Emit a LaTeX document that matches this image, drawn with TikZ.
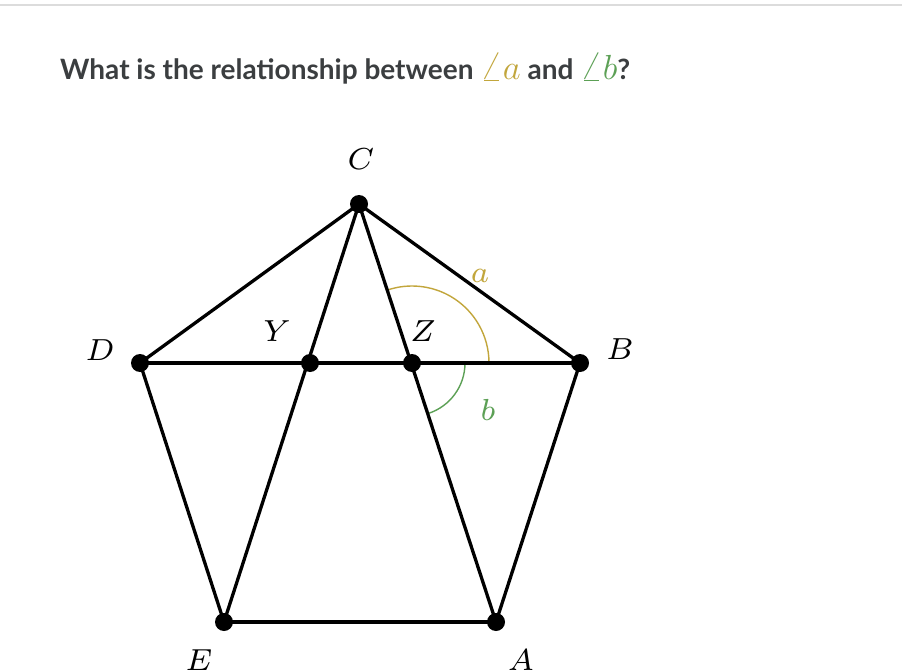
\documentclass[tikz,border=0pt]{standalone}
\usepackage{fontspec}
\newfontfamily\lato{Lato}
\definecolor{titlegray}{HTML}{3B3E40}
\definecolor{goldc}{HTML}{C2A63C}
\definecolor{greenc}{HTML}{5CA055}
\definecolor{rulegray}{HTML}{DCDCDC}
\newcommand{\bigmath}[1]{\scalebox{4.35}{\fontsize{7}{8}\selectfont$#1$}}
\newcommand{\titlemath}[1]{\scalebox{1.4}{\Huge$#1$}}
\begin{document}
\begin{tikzpicture}[x=1pt,y=-1pt,
  dot/.style={circle,fill=black,inner sep=0pt,minimum size=18pt},
  lbl/.style={inner sep=0pt},
  edge/.style={line width=3.3pt,line cap=round},
  anglearc/.style={line width=1.4pt}]
\useasboundingbox (0,0) rectangle (902,671);
\fill[white] (0,0) rectangle (902,671);
\draw[rulegray,line width=2pt] (0,5.5) -- (902,5.5);
\node[anchor=base west,inner sep=0pt,text=titlegray,font=\lato\bfseries\fontsize{28}{30}\selectfont] (title) at (60,80)
  {What is the relationship between \textcolor{goldc}{\titlemath{\angle a}} and \textcolor{greenc}{\titlemath{\angle b}}?};
% vertices
\coordinate (C) at (359,204);
\coordinate (D) at (140,363);
\coordinate (Y) at (310,363);
\coordinate (Z) at (412,363);
\coordinate (B) at (580,363);
\coordinate (E) at (224,622);
\coordinate (A) at (496,622);
% angle arcs
\draw[goldc,anglearc] ([xshift=77pt]Z) arc[start angle=0,end angle=-108.4,radius=77];
\draw[greenc,anglearc] ([xshift=53pt]Z) arc[start angle=0,end angle=72,radius=53];
% edges
\draw[edge] (C) -- (D);
\draw[edge] (C) -- (B);
\draw[edge] (C) -- (E);
\draw[edge] (C) -- (A);
\draw[edge] (D) -- (B);
\draw[edge] (D) -- (E);
\draw[edge] (B) -- (A);
\draw[edge] (E) -- (A);
% dots
\foreach \p in {C,D,Y,Z,B,E,A} \node[dot] (d\p) at (\p) {};
% labels
\node[lbl] (lC) at (361,159) {\bigmath{C}};
\node[lbl] (lD) at (100,350) {\bigmath{D}};
\node[lbl] (lB) at (620,349) {\bigmath{B}};
\node[lbl] (lY) at (277,331) {\bigmath{Y}};
\node[lbl] (lZ) at (423,331) {\bigmath{Z}};
\node[lbl] (lE) at (199,660) {\bigmath{E}};
\node[lbl] (lA) at (521,660) {\bigmath{A}};
\node[lbl,text=goldc] (la) at (480,276) {\bigmath{a}};
\node[lbl,text=greenc] (lb) at (488,410) {\bigmath{b}};
\end{tikzpicture}
\end{document}
